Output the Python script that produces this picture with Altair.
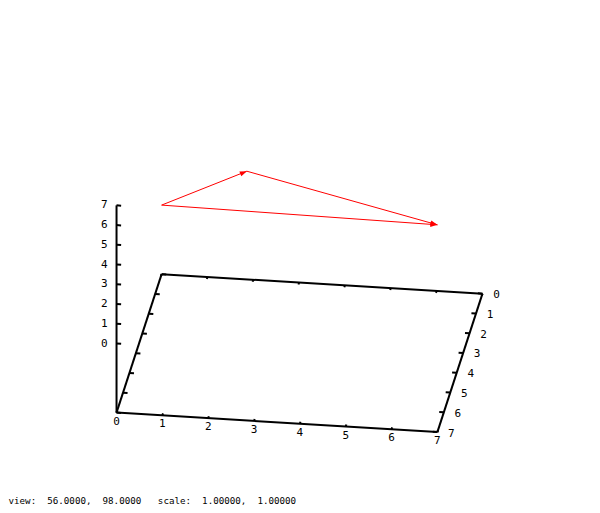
import altair as alt
import numpy as np
import pandas as pd

# ---- data (gnuplot splot with arrows) ----
x_range = [0, 7]
y_range = [0, 7]
z_range = [0, 7]
ticslevel = 0.5
view_rot = [56.0, 98.0]      # rot_x, rot_z
view_scale = [1.0, 1.0]

x_ticks = [0, 1, 2, 3, 4, 5, 6, 7]
y_ticks = [0, 1, 2, 3, 4, 5, 6, 7]
z_ticks = [0, 1, 2, 3, 4, 5, 6, 7]

arrow_from_x = [0, 1, 0]
arrow_from_y = [0, 2, 0]
arrow_from_z = [0, 3, 0]
arrow_to_x = [1, 7, 7]
arrow_to_y = [2, 7, 7]
arrow_to_z = [3, 7, 7]

# ---- view projection (orthographic, gnuplot style) ----
KX, KY, CX, CY = 324.0, 250.0, 299.5, 249.5
floor_z = z_range[0] - ticslevel * (z_range[1] - z_range[0])
ceil_z = z_range[1]
rx, rz = np.radians(view_rot[0]), np.radians(view_rot[1])


def project(x, y, z):
    u = (x - (x_range[0] + x_range[1]) / 2) / (x_range[1] - x_range[0]) * view_scale[0]
    v = (y - (y_range[0] + y_range[1]) / 2) / (y_range[1] - y_range[0]) * view_scale[0]
    w = (z - (floor_z + ceil_z) / 2) / (ceil_z - floor_z) * view_scale[1]
    xp = u * np.cos(rz) + v * np.sin(rz)
    yp = -u * np.sin(rz) + v * np.cos(rz)
    ys = yp * np.cos(rx) + w * np.sin(rx)
    return CX + KX * xp, CY - KY * ys


def seg(rows, a, b):
    (x1, y1), (x2, y2) = project(*a), project(*b)
    rows.append({"x": x1, "y": y1, "x2": x2, "y2": y2})


TL = 0.1  # tick length in data units
X0, X1 = x_range
Y0, Y1 = y_range

black = []
corners = [(X0, Y0), (X1, Y0), (X1, Y1), (X0, Y1), (X0, Y0)]
for (a, b), (c, d) in zip(corners[:-1], corners[1:]):
    seg(black, (a, b, floor_z), (c, d, floor_z))
# z axis at the (xmax, ymin) corner
seg(black, (X1, Y0, floor_z), (X1, Y0, z_range[1]))
for t in z_ticks:
    seg(black, (X1, Y0, t), (X1, Y0 + TL, t))
# x tics on the y=ymax edge, mirrored on y=ymin edge
for t in x_ticks:
    seg(black, (t, Y1, floor_z), (t, Y1 - TL, floor_z))
    seg(black, (t, Y0, floor_z), (t, Y0 + TL, floor_z))
# y tics on the x=xmax edge, mirrored on x=xmin edge
for t in y_ticks:
    seg(black, (X1, t, floor_z), (X1 - TL, t, floor_z))
    seg(black, (X0, t, floor_z), (X0 + TL, t, floor_z))
black_df = pd.DataFrame(black)

red = []
heads = []
for i in range(len(arrow_from_x)):
    a = (arrow_from_x[i], arrow_from_y[i], arrow_from_z[i])
    b = (arrow_to_x[i], arrow_to_y[i], arrow_to_z[i])
    seg(red, a, b)
    (xa, ya), (xb, yb) = project(*a), project(*b)
    ang = np.degrees(np.arctan2(yb - ya, xb - xa)) % 360
    heads.append({"x": xb, "y": yb, "angle": ang})
red_df = pd.DataFrame(red)
heads_df = pd.DataFrame(heads)

labels = []
for t in z_ticks:
    px, py = project(X1, Y0, t)
    labels.append({"x": px - 9, "y": py, "text": str(t), "al": "right"})
for t in y_ticks:
    px, py = project(X1, t, floor_z)
    labels.append({"x": px, "y": py + 9, "text": str(t), "al": "center"})
for t in x_ticks:
    px, py = project(t, Y1, floor_z)
    labels.append({"x": px + 14, "y": py + 1.5, "text": str(t), "al": "center"})
lab_df = pd.DataFrame(labels)
lab_r = lab_df[lab_df.al == "right"]
lab_c = lab_df[lab_df.al == "center"]

NB = "\u00a0"
status = (f"view:{NB*2}{view_rot[0]:.4f},{NB*2}{view_rot[1]:.4f}{NB*3}"
          f"scale:{NB*2}{view_scale[0]:.5f},{NB*2}{view_scale[1]:.5f}")
status_df = pd.DataFrame([{"x": 8.5, "y": 504, "text": status}])

# ---- chart: page-pixel scales ----
W, H = 584, 497
xs = alt.Scale(domain=[8, 8 + W], nice=False, zero=False)
ys = alt.Scale(domain=[8, 8 + H], nice=False, zero=False, reverse=True)
X = lambda f: alt.X(f, type="quantitative", scale=xs, axis=None)
Y = lambda f: alt.Y(f, type="quantitative", scale=ys, axis=None)

black_layer = alt.Chart(black_df).mark_rule(color="black", strokeWidth=2).encode(
    x=X("x"), y=Y("y"), x2="x2", y2="y2")
red_layer = alt.Chart(red_df).mark_rule(color="#ff0000", strokeWidth=1).encode(
    x=X("x"), y=Y("y"), x2="x2", y2="y2")
head_layer = alt.Chart(heads_df).mark_point(
    shape="M0,0L-3.5,-1.3L-3.5,1.3Z", filled=True, color="#ff0000",
    size=16, opacity=1, strokeWidth=0).encode(
    x=X("x"), y=Y("y"), angle=alt.Angle("angle:Q", scale=None))
font = "DejaVu Sans Mono"
lab_r_layer = alt.Chart(lab_r).mark_text(
    align="right", baseline="middle", font=font, fontSize=11, color="black").encode(
    x=X("x"), y=Y("y"), text="text:N")
lab_c_layer = alt.Chart(lab_c).mark_text(
    align="center", baseline="middle", font=font, fontSize=11, color="black").encode(
    x=X("x"), y=Y("y"), text="text:N")
status_layer = alt.Chart(status_df).mark_text(
    align="left", baseline="alphabetic", font=font, fontSize=9.2, color="black").encode(
    x=X("x"), y=Y("y"), text="text:N")

chart = alt.layer(black_layer, red_layer, head_layer, lab_r_layer, lab_c_layer,
                  status_layer).properties(
    width=W, height=H, padding=0, autosize=alt.AutoSizeParams(type="none")
).configure_view(stroke=None)

chart.save("out.html", embed_options={"renderer": "svg", "actions": False})
